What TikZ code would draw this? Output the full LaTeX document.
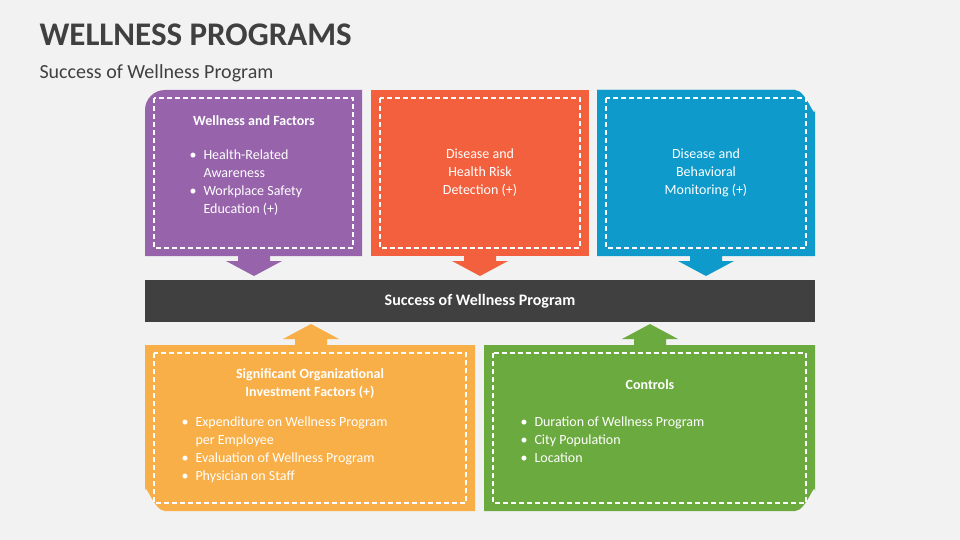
\documentclass[tikz,border=0pt]{standalone}
\usepackage{fontspec}
\setmainfont{Carlito}
\begin{document}
\begin{tikzpicture}[x=1pt,y=-1pt,
  dbox/.style={draw=white,dashed,line width=1.2pt,dash pattern=on 5pt off 3pt},
  txt/.style={text=white,font=\fontsize{14}{18}\selectfont,align=center}]
\definecolor{cpur}{HTML}{9763AB}\definecolor{cred}{HTML}{F2603D}
\definecolor{cblu}{HTML}{0E9ACB}\definecolor{cora}{HTML}{F9AF47}
\definecolor{cgrn}{HTML}{6BAA3F}\definecolor{cbar}{HTML}{404040}
\fill[fill={rgb,255:red,242;green,242;blue,242}] (0,0) rectangle (960,540);
\useasboundingbox (0,0) rectangle (960,540);
\node[anchor=west,font=\bfseries\fontsize{33}{36}\selectfont,text={rgb,255:red,64;green,64;blue,64}] (title) at (36,35) {WELLNESS PROGRAMS};
\node[anchor=west,font=\fontsize{20}{24}\selectfont,text={rgb,255:red,64;green,64;blue,64}] (sub) at (36,73) {Success of Wellness Program};
% arrows
\fill[cpur] (238,255) rectangle (270,261) (226,261) -- (282,261) -- (254,276) -- cycle;
\fill[cred] (464,255) rectangle (496,261) (452,261) -- (508,261) -- (480,276) -- cycle;
\fill[cblu] (690,255) rectangle (722,261) (678,261) -- (734,261) -- (706,276) -- cycle;
\fill[cora] (295,346) rectangle (327,339) (283,339) -- (339,339) -- (311,324) -- cycle;
\fill[cgrn] (634,346) rectangle (666,339) (622,339) -- (678,339) -- (650,324) -- cycle;
% boxes
\fill[cpur] (145,256) -- (145,110) arc[start angle=180,end angle=270,radius=20] -- (362,90) -- (362,256) -- cycle;
\fill[cred] (371,90) rectangle (589,256);
\fill[cblu] (597,256) -- (597,90) -- (795,90) arc[start angle=90,end angle=0,radius=-20] ;
\fill[cblu] (597,256) -- (597,90) -- (795,90) to[out=0,in=-90] (815,110) -- (815,256) -- cycle;
\fill[cora] (145,345) -- (475,345) -- (475,511) -- (165,511) to[out=180,in=90] (145,491) -- cycle;
\fill[cgrn] (484,345) -- (815,345) -- (815,491) to[out=90,in=0] (795,511) -- (484,511) -- cycle;
\draw[dbox] (154,98) rectangle (353,248);
\draw[dbox] (380,98) rectangle (580,248);
\draw[dbox] (606,98) rectangle (806,248);
\draw[dbox] (154,353) rectangle (466,503);
\draw[dbox] (493,353) rectangle (806,503);
\fill[cbar] (145,280) rectangle (815,322);
\node[text=white,font=\bfseries\fontsize{16}{18}\selectfont] (bar) at (480,301) {Success of Wellness Program};
% texts
\node[txt,font=\bfseries\fontsize{14}{18}\selectfont] (t1) at (254,121) {Wellness and Factors};
\node[txt,anchor=north west,align=left] (l1) at (186,146) {\textbullet\hspace{7pt}Health-Related\\\hspace{14pt}Awareness\\\textbullet\hspace{7pt}Workplace Safety\\\hspace{14pt}Education (+)};
\node[txt] (t2) at (480,173) {Disease and\\Health Risk\\Detection (+)};
\node[txt] (t3) at (706,173) {Disease and\\Behavioral\\Monitoring (+)};
\node[txt,font=\bfseries\fontsize{14}{18}\selectfont] (t4) at (310,384) {Significant Organizational\\Investment Factors (+)};
\node[txt,anchor=north west,align=left] (l4) at (178,413) {\textbullet\hspace{7pt}Expenditure on Wellness Program\\\hspace{14pt}per Employee\\\textbullet\hspace{7pt}Evaluation of Wellness Program\\\textbullet\hspace{7pt}Physician on Staff};
\node[txt,font=\bfseries\fontsize{14}{18}\selectfont] (t5) at (650,385) {Controls};
\node[txt,anchor=north west,align=left] (l5) at (517,413) {\textbullet\hspace{7pt}Duration of Wellness Program\\\textbullet\hspace{7pt}City Population\\\textbullet\hspace{7pt}Location};
\end{tikzpicture}
\end{document}
